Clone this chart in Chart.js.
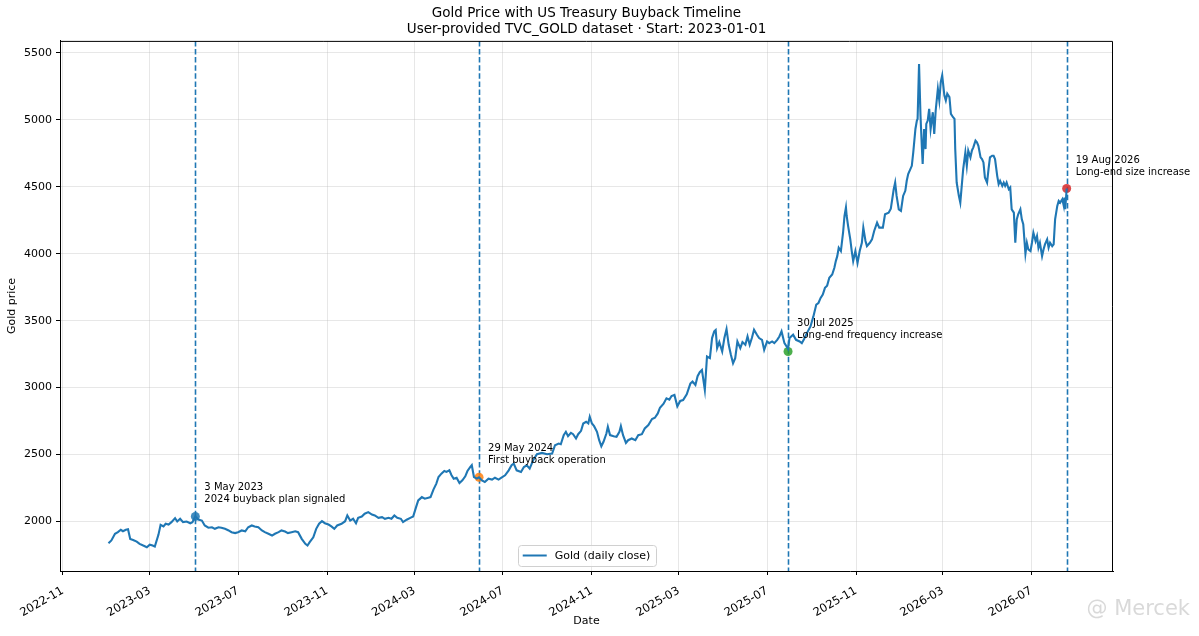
<!DOCTYPE html>
<html>
<head>
<meta charset="utf-8">
<script src="https://cdn.jsdelivr.net/npm/chart.js@4.4.1/dist/chart.umd.min.js"></script>
<style>
  html, body { margin: 0; padding: 0; background: #fff; }
  #wrap { width: 1199px; height: 636px; }
</style>
</head>
<body>
<div id="wrap"><canvas id="goldChart" width="1199" height="636"></canvas></div>
<script>
// closes, one line per month
const dates2023 = [
  '2023-01-03','2023-01-07','2023-01-12','2023-01-16','2023-01-20','2023-01-23','2023-01-27','2023-01-30',
  '2023-02-02','2023-02-06','2023-02-11','2023-02-15','2023-02-20','2023-02-25',
  '2023-03-01','2023-03-05','2023-03-08','2023-03-13','2023-03-16','2023-03-20','2023-03-23','2023-03-27','2023-03-31',
  '2023-04-05','2023-04-08','2023-04-12','2023-04-16','2023-04-21','2023-04-26','2023-04-29',
  '2023-05-03','2023-05-07','2023-05-12','2023-05-16','2023-05-21','2023-05-26','2023-05-30',
  '2023-06-04','2023-06-08','2023-06-13','2023-06-18','2023-06-22','2023-06-27',
  '2023-07-01','2023-07-06','2023-07-11','2023-07-15','2023-07-20','2023-07-24','2023-07-29',
  '2023-08-03','2023-08-07','2023-08-12','2023-08-17','2023-08-21','2023-08-26','2023-08-30',
  '2023-09-04','2023-09-08','2023-09-13','2023-09-18','2023-09-22','2023-09-27',
  '2023-10-02','2023-10-05','2023-10-08','2023-10-13','2023-10-17','2023-10-21','2023-10-25','2023-10-29',
  '2023-11-03','2023-11-07','2023-11-11','2023-11-15','2023-11-21','2023-11-26','2023-11-29',
  '2023-12-03','2023-12-07','2023-12-11','2023-12-14','2023-12-19','2023-12-23','2023-12-28'
];
const close2023 = [
  1837, 1858, 1908, 1920, 1938, 1927, 1938, 1942,
  1870, 1862, 1850, 1833, 1820, 1808,
  1827, 1820, 1812, 1900, 1975, 1963, 1983, 1977, 1995,
  2025, 2000, 2020, 1995, 2000, 1987, 1995,
  2038, 2015, 2007, 1970, 1953, 1957, 1945,
  1957, 1953, 1945, 1933, 1920, 1913,
  1920, 1933, 1927, 1957, 1970, 1963, 1957,
  1933, 1920, 1908, 1895, 1908, 1920, 1933,
  1925, 1913, 1920, 1927, 1920, 1870,
  1833, 1820, 1845, 1882, 1945, 1983, 2002, 1987,
  1977, 1963, 1945, 1970, 1983, 2002, 2045,
  2007, 2020, 1987, 2027, 2037, 2058, 2070
];

const dates2024 = [
  '2024-01-02','2024-01-06','2024-01-11','2024-01-16','2024-01-20','2024-01-25','2024-01-29',
  '2024-02-02','2024-02-06','2024-02-11','2024-02-14','2024-02-19','2024-02-24','2024-02-28',
  '2024-03-03','2024-03-06','2024-03-11','2024-03-15','2024-03-20','2024-03-23','2024-03-27','2024-03-31',
  '2024-04-03','2024-04-07','2024-04-11','2024-04-14','2024-04-18','2024-04-21','2024-04-24','2024-04-28',
  '2024-05-02','2024-05-06','2024-05-10','2024-05-13','2024-05-17','2024-05-19','2024-05-22','2024-05-26','2024-05-29',
  '2024-06-02','2024-06-06','2024-06-11','2024-06-16','2024-06-20','2024-06-25','2024-06-29',
  '2024-07-04','2024-07-09','2024-07-13','2024-07-16','2024-07-20','2024-07-26','2024-07-30',
  '2024-08-03','2024-08-07','2024-08-12','2024-08-17','2024-08-24','2024-08-31',
  '2024-09-07','2024-09-11','2024-09-16','2024-09-19','2024-09-23','2024-09-26','2024-09-29',
  '2024-10-03','2024-10-06','2024-10-10','2024-10-13','2024-10-17','2024-10-20','2024-10-24','2024-10-27','2024-10-29',
  '2024-11-01','2024-11-04','2024-11-08','2024-11-11','2024-11-14','2024-11-17','2024-11-21','2024-11-23','2024-11-26',
  '2024-12-01','2024-12-05','2024-12-09','2024-12-11','2024-12-14','2024-12-18','2024-12-21','2024-12-26','2024-12-31'
];
const close2024 = [
  2052, 2045, 2027, 2032, 2020, 2027, 2020,
  2045, 2027, 2020, 1995, 2013, 2027, 2037,
  2107, 2157, 2182, 2170, 2178, 2182, 2238, 2283,
  2332, 2357, 2377, 2370, 2382, 2345, 2320, 2327,
  2287, 2307, 2337, 2377, 2407, 2420, 2332, 2320, 2330,
  2307, 2295, 2320, 2313, 2327, 2313, 2327,
  2345, 2382, 2420, 2432, 2382, 2370, 2407,
  2420, 2395, 2460, 2502, 2512, 2502,
  2507, 2570, 2582, 2577, 2645, 2670, 2637,
  2662, 2652, 2620, 2652, 2677, 2732, 2745, 2732, 2782,
  2732, 2712, 2670, 2607, 2562, 2595, 2657, 2707, 2645,
  2637, 2632, 2670, 2712, 2645, 2587, 2607, 2620, 2607
];

const dates2025 = [
  '2025-01-04','2025-01-09','2025-01-13','2025-01-18','2025-01-23','2025-01-27','2025-01-31',
  '2025-02-03','2025-02-08','2025-02-12','2025-02-16','2025-02-19','2025-02-23','2025-02-27',
  '2025-03-03','2025-03-07','2025-03-12','2025-03-17','2025-03-20','2025-03-24','2025-03-27','2025-03-30',
  '2025-04-02','2025-04-06','2025-04-09','2025-04-13','2025-04-16','2025-04-19','2025-04-21','2025-04-23','2025-04-26','2025-04-30',
  '2025-05-03','2025-05-06','2025-05-09','2025-05-12','2025-05-15','2025-05-18','2025-05-21','2025-05-25','2025-05-28',
  '2025-06-01','2025-06-04','2025-06-07','2025-06-10','2025-06-13','2025-06-17','2025-06-20','2025-06-24','2025-06-27',
  '2025-07-01','2025-07-04','2025-07-08','2025-07-11','2025-07-15','2025-07-18','2025-07-21','2025-07-25','2025-07-30',
  '2025-08-01','2025-08-06','2025-08-10','2025-08-15','2025-08-18','2025-08-21','2025-08-25','2025-08-30',
  '2025-09-03','2025-09-07','2025-09-10','2025-09-13','2025-09-16','2025-09-19','2025-09-22','2025-09-25','2025-09-29',
  '2025-10-02','2025-10-04','2025-10-06','2025-10-08','2025-10-11','2025-10-14','2025-10-16','2025-10-18','2025-10-19','2025-10-21','2025-10-24','2025-10-26','2025-10-28','2025-10-31',
  '2025-11-03','2025-11-06','2025-11-09','2025-11-11','2025-11-14','2025-11-16','2025-11-20','2025-11-23','2025-11-26','2025-11-30',
  '2025-12-03','2025-12-08','2025-12-11','2025-12-16','2025-12-19','2025-12-23','2025-12-25','2025-12-27','2025-12-30'
];
const close2025 = [
  2645, 2652, 2695, 2720, 2765, 2775, 2807,
  2850, 2880, 2920, 2910, 2937, 2945, 2860,
  2900, 2907, 2950, 3030, 3045, 3020, 3085, 3115,
  3132, 2982, 3232, 3220, 3370, 3420, 3430, 3295, 3340, 3270,
  3370, 3437, 3320, 3245, 3182, 3220, 3345, 3295, 3340,
  3320, 3382, 3320, 3370, 3432, 3395, 3370, 3357, 3282,
  3345, 3332, 3345, 3332, 3357, 3382, 3420, 3332, 3290,
  3370, 3395, 3357, 3345, 3332, 3362, 3407, 3457,
  3532, 3620, 3632, 3670, 3695, 3745, 3762, 3820, 3845,
  3895, 3945, 3982, 4045, 4020, 4157, 4282, 4345, 4282, 4207, 4107, 4020, 3945, 4020,
  3932, 4020, 4082, 4195, 4095, 4057, 4082, 4107, 4170, 4232,
  4195, 4195, 4295, 4307, 4337, 4482, 4532, 4432, 4332
];

const dates2026 = [
  '2026-01-02','2026-01-05','2026-01-08','2026-01-10','2026-01-12','2026-01-15','2026-01-17','2026-01-19','2026-01-22','2026-01-24','2026-01-25','2026-01-27','2026-01-29','2026-01-31',
  '2026-02-01','2026-02-03','2026-02-05','2026-02-06','2026-02-08','2026-02-10','2026-02-12','2026-02-15','2026-02-17','2026-02-19','2026-02-22','2026-02-24','2026-02-26','2026-02-28',
  '2026-03-03','2026-03-05','2026-03-07','2026-03-10','2026-03-12','2026-03-15','2026-03-17','2026-03-18','2026-03-20','2026-03-23','2026-03-25','2026-03-27','2026-03-29',
  '2026-04-01','2026-04-03','2026-04-05','2026-04-08','2026-04-10','2026-04-12','2026-04-15','2026-04-17','2026-04-19','2026-04-22','2026-04-24','2026-04-26','2026-04-28',
  '2026-05-01','2026-05-03','2026-05-05','2026-05-08','2026-05-10','2026-05-12','2026-05-15','2026-05-17','2026-05-19','2026-05-22','2026-05-24','2026-05-26','2026-05-28','2026-05-31',
  '2026-06-02','2026-06-04','2026-06-07','2026-06-09','2026-06-11','2026-06-13','2026-06-16','2026-06-18','2026-06-20','2026-06-23','2026-06-25','2026-06-27','2026-06-30',
  '2026-07-02','2026-07-04','2026-07-07','2026-07-09','2026-07-11','2026-07-13','2026-07-16','2026-07-18','2026-07-20','2026-07-23','2026-07-25','2026-07-27','2026-07-30',
  '2026-08-01','2026-08-03','2026-08-06','2026-08-08','2026-08-10','2026-08-13','2026-08-15','2026-08-16','2026-08-17','2026-08-19'
];
const close2026 = [
  4320, 4432, 4470, 4545, 4595, 4632, 4657, 4757, 4932, 4995, 5007, 5417, 5032, 4782,
  4670, 4932, 4782, 4970, 4995, 5082, 4932, 5057, 4895, 5070, 5232, 5145, 5282, 5332,
  5182, 5145, 5195, 5170, 5045, 5020, 5007, 4782, 4532, 4432, 4382, 4507, 4632,
  4757, 4657, 4770, 4720, 4770, 4795, 4845, 4832, 4807, 4720, 4707, 4682, 4570,
  4532, 4632, 4720, 4732, 4732, 4707, 4582, 4520, 4545, 4507, 4532, 4507, 4532, 4482,
  4495, 4332, 4307, 4082, 4257, 4295, 4332, 4257, 4220, 4000, 4082, 4032, 4020,
  4082, 4157, 4095, 4132, 4045, 4082, 3982, 4032, 4070, 4107, 4045, 4082, 4057,
  4070, 4257, 4357, 4395, 4382, 4407, 4357, 4420, 4332, 4487
];

// buyback timeline events
const eventDates = ['2023-05-03', '2024-05-29', '2025-07-30', '2026-08-19'];
const eventPrices = [2038, 2330, 3270, 4487];
const eventTitles = ['3 May 2023', '29 May 2024', '30 Jul 2025', '19 Aug 2026'];
const eventNotes = ['2024 buyback plan signaled', 'First buyback operation', 'Long-end frequency increase', 'Long-end size increase'];
const eventColors = ['#1f77b4', '#ff7f0e', '#2ca02c', '#d62728'];

// axes
const xTickLabels = ['2022-11', '2023-03', '2023-07', '2023-11', '2024-03', '2024-07', '2024-11', '2025-03', '2025-07', '2025-11', '2026-03', '2026-07'];
const yTicks = [2000, 2500, 3000, 3500, 4000, 4500, 5000, 5500];
const xStart = '2022-10-28';
const xEnd = '2026-10-22';
const yMin = 1630;
const yMax = 5590;

const toMs = s => Date.parse(s + 'T00:00:00Z');

const goldPoints = [];
[[dates2023, close2023], [dates2024, close2024], [dates2025, close2025], [dates2026, close2026]].forEach(([ds, vs]) => {
    if (ds.length !== vs.length) console.error('length mismatch', ds[0], ds.length, vs.length);
    ds.forEach((d, i) => goldPoints.push({ x: toMs(d), y: vs[i] }));
});
const eventPoints = eventDates.map((d, i) => ({ x: toMs(d), y: eventPrices[i] }));

const FONT = 'DejaVu Sans';
Chart.defaults.font.family = FONT;
Chart.defaults.color = '#000';

const gridColor = 'rgba(176,176,176,0.3)';

// dashed event lines, labels, frame, legend box
const timelinePlugin = {
    id: 'timeline',
    beforeDatasetsDraw(chart) {
        const { ctx, chartArea: a, scales: { x } } = chart;
        ctx.save();
        ctx.strokeStyle = '#1f77b4';
        ctx.lineWidth = 1.6;
        ctx.setLineDash([5.5, 2.6]);
        eventDates.forEach(d => {
            const px = Math.round(x.getPixelForValue(toMs(d))) + 0.5;
            ctx.beginPath();
            ctx.moveTo(px, a.top);
            ctx.lineTo(px, a.bottom);
            ctx.stroke();
        });
        ctx.restore();
    },
    afterDatasetsDraw(chart) {
        const { ctx, chartArea: a, scales: { x, y } } = chart;
        ctx.save();
        // top and right spines
        ctx.strokeStyle = '#000';
        ctx.lineWidth = 1;
        ctx.beginPath();
        ctx.moveTo(a.left, a.top + 0.5);
        ctx.lineTo(a.right - 0.5, a.top + 0.5);
        ctx.lineTo(a.right - 0.5, a.bottom);
        ctx.stroke();
        // annotations
        ctx.fillStyle = '#000';
        ctx.font = '10px "' + FONT + '"';
        ctx.textAlign = 'left';
        ctx.textBaseline = 'middle';
        eventDates.forEach((d, i) => {
            const px = x.getPixelForValue(toMs(d)) + 9;
            const py = y.getPixelForValue(eventPrices[i]);
            ctx.fillText(eventTitles[i], px, py - 28.5);
            ctx.fillText(eventNotes[i], px, py - 16.5);
        });
        ctx.restore();
    },
    afterDraw(chart) {
        const { ctx, chartArea: a } = chart;
        const ds = chart.data.datasets[0];
        ctx.save();
        ctx.font = '11px "' + FONT + '"';
        const tw = ctx.measureText(ds.label).width;
        const w = 4 + 24 + 8 + tw + 6;
        const h = 21;
        const bx = (a.left + a.right) / 2 - w / 2;
        const by = a.bottom - 5 - h;
        ctx.fillStyle = 'rgba(255,255,255,0.8)';
        ctx.strokeStyle = '#d0d0d0';
        ctx.lineWidth = 1;
        ctx.beginPath();
        ctx.roundRect(Math.round(bx) + 0.5, Math.round(by) + 0.5, Math.round(w), h, 3);
        ctx.fill();
        ctx.stroke();
        ctx.strokeStyle = ds.borderColor;
        ctx.lineWidth = 2;
        ctx.beginPath();
        ctx.moveTo(bx + 5, by + h / 2);
        ctx.lineTo(bx + 29, by + h / 2);
        ctx.stroke();
        ctx.fillStyle = '#000';
        ctx.textAlign = 'left';
        ctx.textBaseline = 'middle';
        ctx.fillText(ds.label, bx + 37, by + h / 2 + 0.5);
        // source watermark
        ctx.font = '21px "' + FONT + '"';
        ctx.fillStyle = 'rgba(170,170,170,0.45)';
        ctx.textAlign = 'right';
        ctx.fillText('@ Mercek', 1190, 610);
        ctx.restore();
    }
};

new Chart(document.getElementById('goldChart'), {
    type: 'line',
    data: {
        datasets: [
            {
                label: 'Gold (daily close)',
                data: goldPoints,
                borderColor: '#1f77b4',
                borderWidth: 2.1,
                pointRadius: 0,
                tension: 0,
                fill: false,
                order: 0
            },
            {
                label: 'Buyback events',
                data: eventPoints,
                showLine: false,
                pointRadius: 4.5,
                pointBackgroundColor: eventColors.map(c => c + 'd8'),
                pointBorderWidth: 0,
                order: 1
            }
        ]
    },
    options: {
        responsive: false,
        animation: false,
        layout: { padding: { left: 0, right: 86, top: 0, bottom: 0 } },
        plugins: {
            legend: { display: false },
            tooltip: { enabled: false },
            title: {
                display: true,
                fullSize: false,
                text: ['Gold Price with US Treasury Buyback Timeline', 'User-provided TVC_GOLD dataset \u00b7 Start: 2023-01-01'],
                font: { family: FONT, size: 13.5, weight: 'normal', lineHeight: 1.2 },
                color: '#000',
                padding: { top: 5.5, bottom: 3 }
            }
        },
        scales: {
            x: {
                type: 'linear',
                min: toMs(xStart),
                max: toMs(xEnd),
                afterBuildTicks: axis => { axis.ticks = xTickLabels.map(m => ({ value: toMs(m + '-01') })); },
                afterFit: s => { s.height = 65; },
                ticks: {
                    autoSkip: false,
                    maxRotation: 30,
                    minRotation: 30,
                    padding: 9,
                    font: { size: 11.5 },
                    color: '#000',
                    callback: (v, i) => xTickLabels[i]
                },
                grid: { color: gridColor, tickColor: '#000', tickLength: 4 },
                border: { color: '#000', width: 1 },
                title: { display: true, text: 'Date', font: { size: 11 }, color: '#000', padding: { top: 0, bottom: 8 } }
            },
            y: {
                min: yMin,
                max: yMax,
                afterBuildTicks: axis => { axis.ticks = yTicks.map(v => ({ value: v })); },
                afterFit: s => { s.width = 60; },
                ticks: { padding: 4, font: { size: 11 }, color: '#000', callback: v => String(v) },
                grid: { color: gridColor, tickColor: '#000', tickLength: 4 },
                border: { color: '#000', width: 1 },
                title: { display: true, text: 'Gold price', font: { size: 11 }, color: '#000', padding: { top: 6, bottom: 4 } }
            }
        }
    },
    plugins: [timelinePlugin]
});
</script>
</body>
</html>
